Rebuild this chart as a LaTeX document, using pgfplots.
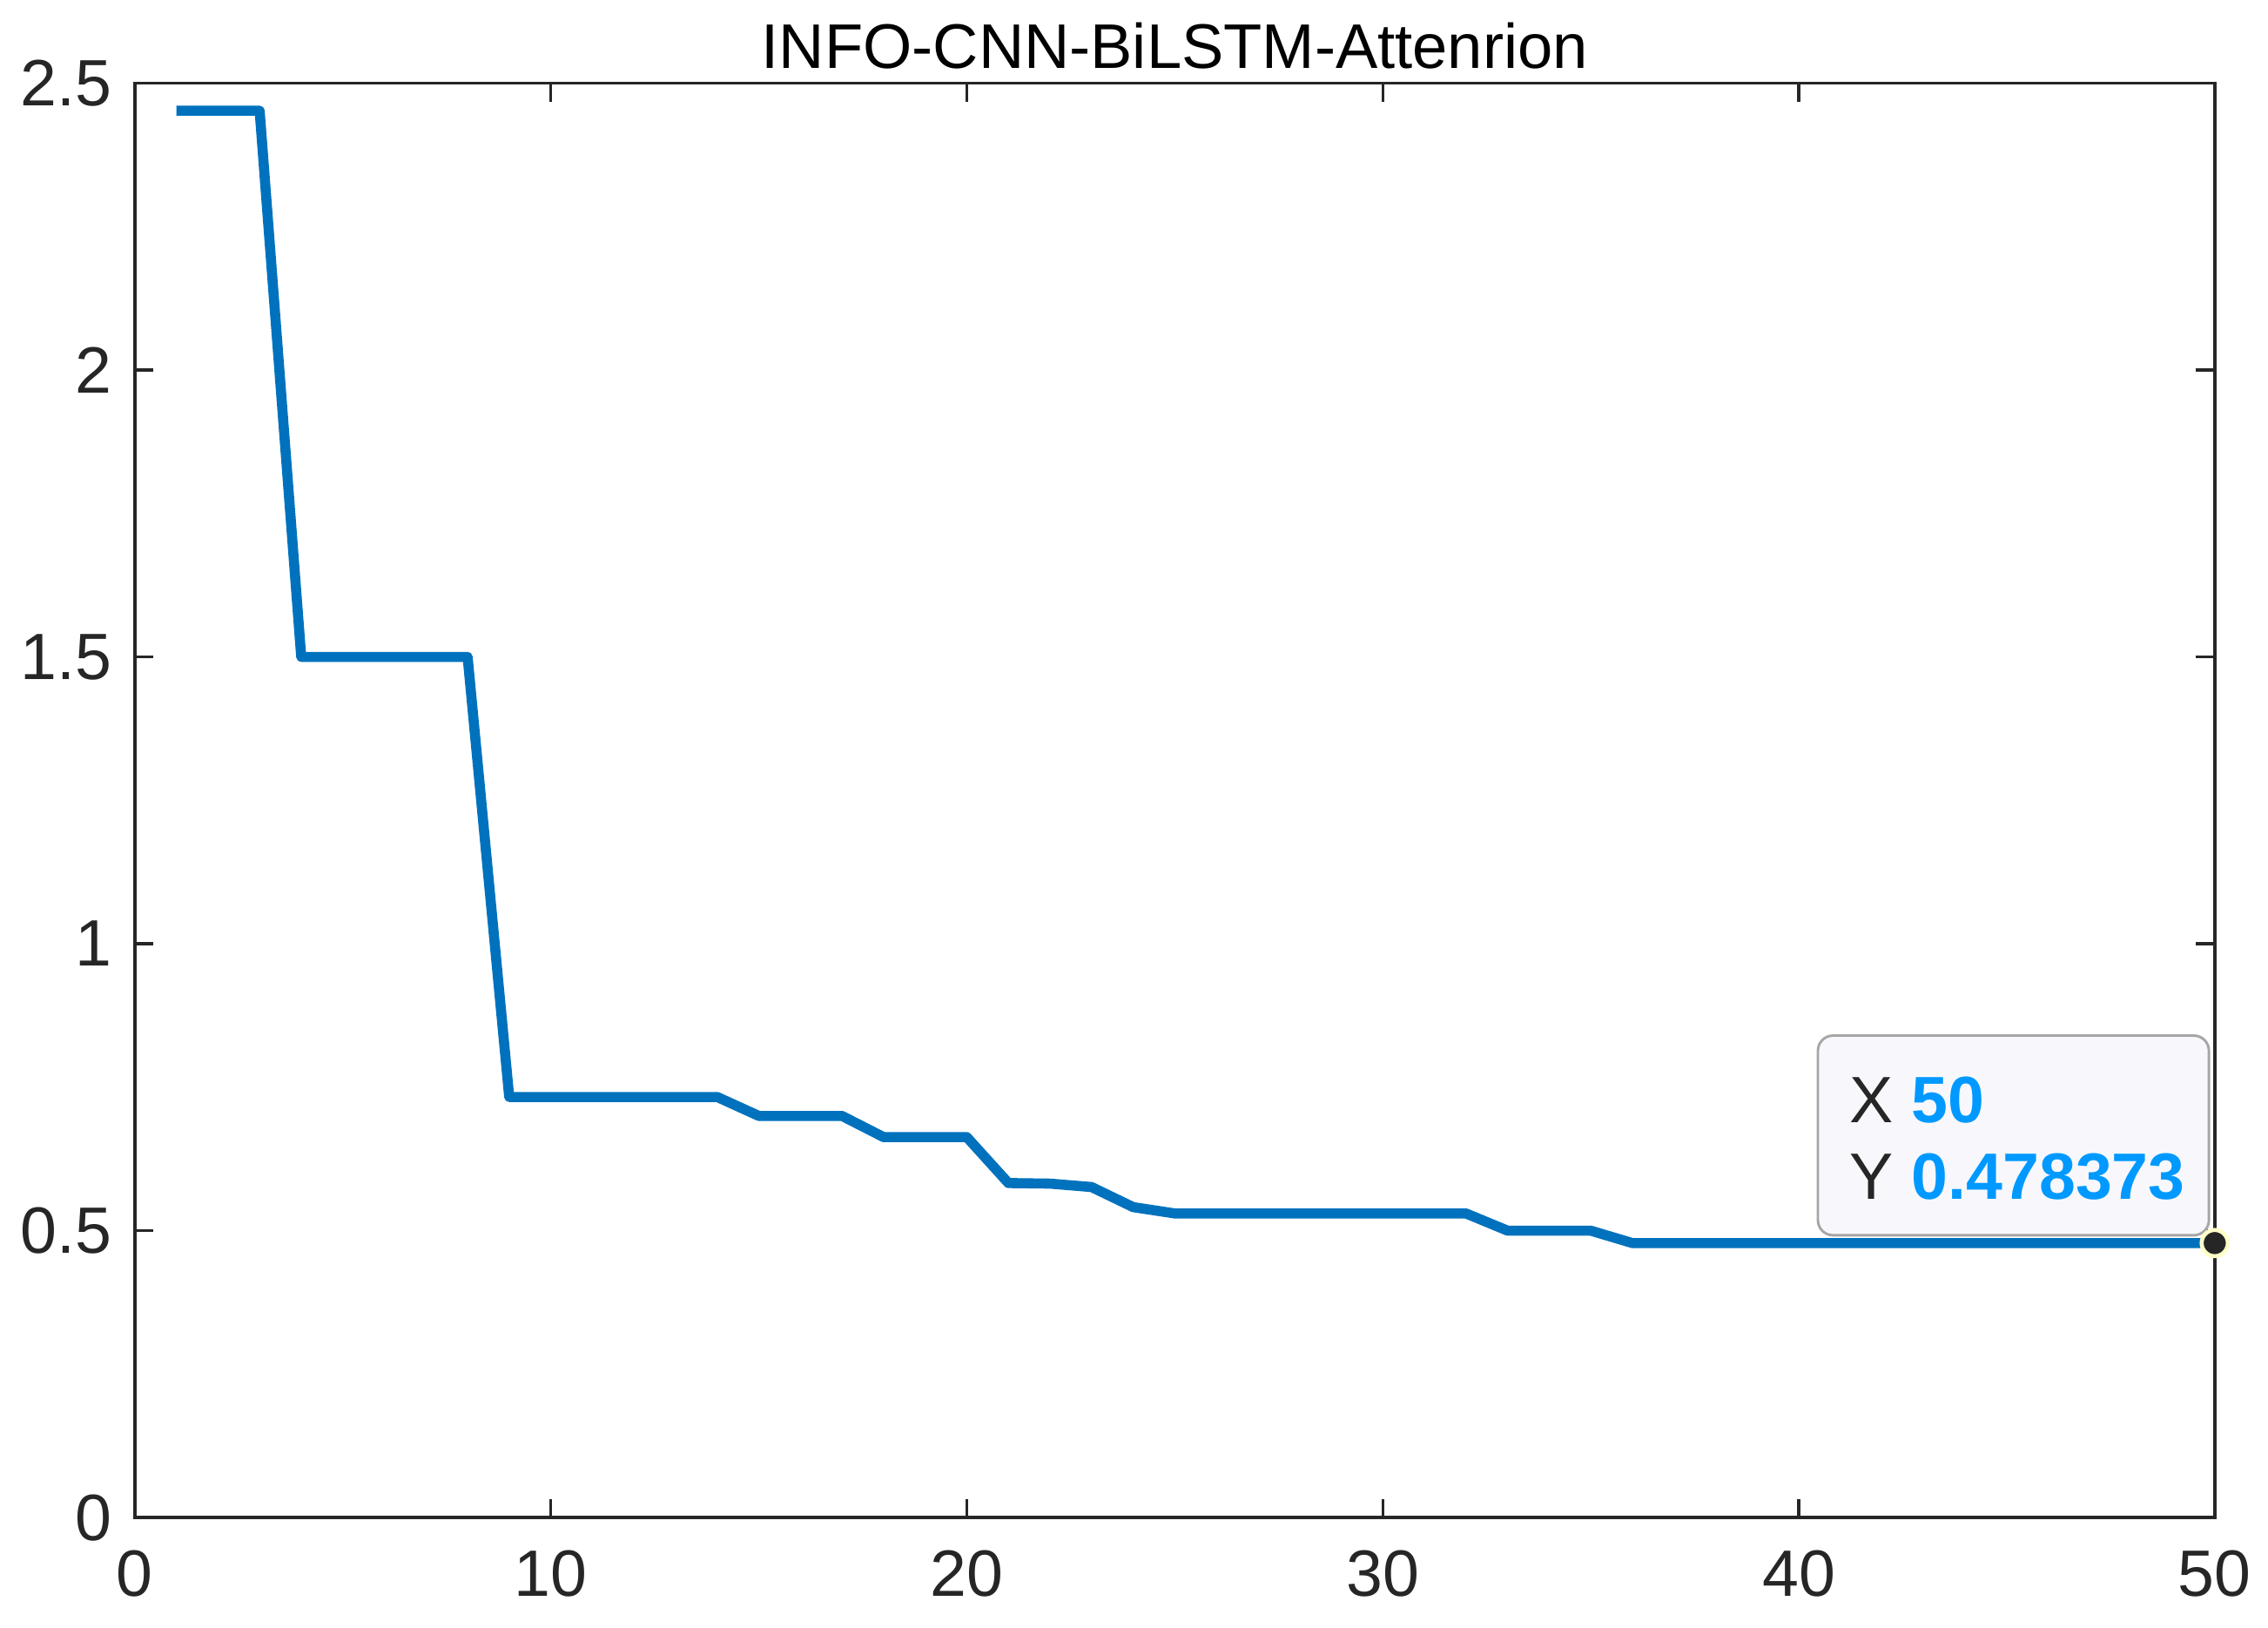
\documentclass[border=0pt]{standalone}
\usepackage{fontspec}
\setmainfont{Liberation Sans}
\usepackage{pgfplots}
\pgfplotsset{compat=1.18}

\definecolor{mlblue}{RGB}{0,114,189}
\definecolor{axgray}{RGB}{38,38,38}
\definecolor{tipblue}{RGB}{0,153,255}

\begin{document}
\begin{tikzpicture}
\begin{axis}[
  scale only axis, width=14.5cm, height=10.0cm,
  xmin=0, xmax=50, ymin=0, ymax=2.5,
  xtick={0,10,...,50}, ytick={0,0.5,...,2.5},
  tick align=inside, tickpos=both,
  major tick length=0.13cm,
  axis line style={axgray, line width=0.6pt},
  every tick/.style={axgray, line width=0.6pt},
  tick label style={font=\fontsize{13}{15}\selectfont, text=axgray},
  yticklabel style={xshift=-1pt},
  xticklabel style={yshift=-3pt},
  /pgf/number format/assume math mode=true,
  yticklabel style={/pgf/number format/fixed},
  title={INFO-CNN-BiLSTM-Attenrion},
  title style={font=\fontsize{12.5}{14}\selectfont, text=black, at={(0.5,1)}, anchor=base, yshift=-3pt},
  clip=false,
]
\addplot[mlblue, line width=2pt, line join=round] coordinates {
  (1,2.452) (2,2.452) (3,2.452) (4,1.5) (5,1.5) (6,1.5) (7,1.5) (8,1.5)
  (9,0.733) (10,0.733) (11,0.733) (12,0.733) (13,0.733) (14,0.733)
  (15,0.700) (16,0.700) (17,0.700) (18,0.663) (19,0.663) (20,0.663)
  (21,0.583) (22,0.582) (23,0.576) (24,0.541) (25,0.530) (26,0.530)
  (27,0.530) (28,0.530) (29,0.530) (30,0.530) (31,0.530) (32,0.530)
  (33,0.500) (34,0.500) (35,0.500) (36,0.478373) (37,0.478373)
  (38,0.478373) (39,0.478373) (40,0.478373) (41,0.478373) (42,0.478373)
  (43,0.478373) (44,0.478373) (45,0.478373) (46,0.478373) (47,0.478373)
  (48,0.478373) (49,0.478373) (50,0.478373)
};
% data tip
\draw[draw=gray!70, fill={rgb,255:red,248;green,248;blue,252}, rounded corners=3pt, line width=0.5pt]
  (axis cs:40.46,0.492) rectangle (axis cs:49.86,0.84);
\node[anchor=west, font=\fontsize{13}{15}\selectfont, inner sep=0pt] at (axis cs:41.2,0.727)
  {\textcolor{axgray}{X} \textcolor{tipblue}{\textbf{50}}};
\node[anchor=west, font=\fontsize{13}{15}\selectfont, inner sep=0pt] at (axis cs:41.2,0.594)
  {\textcolor{axgray}{Y} \textcolor{tipblue}{\textbf{0.478373}}};
\addplot[only marks, mark=*, mark size=2.6pt, mark options={fill=black!85, draw={rgb,255:red,255;green,255;blue,200}, line width=0.8pt}]
  coordinates {(50,0.478373)};
% margins as in the original figure
\path (rel axis cs:0,1) ++(-0.94cm,0.58cm);
\path (rel axis cs:0,0) ++(0,-0.77cm);
\end{axis}
\end{tikzpicture}
\end{document}
